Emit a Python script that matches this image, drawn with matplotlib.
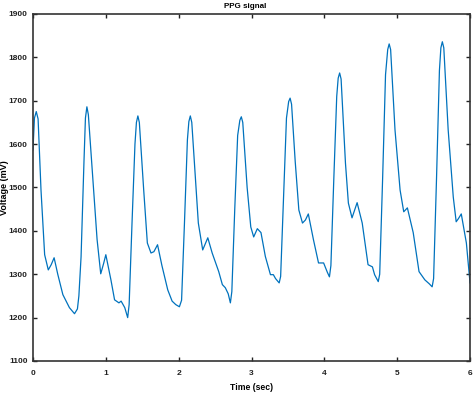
import matplotlib
matplotlib.use("Agg")
import matplotlib.pyplot as plt

time_sec = [
    0.00, 0.02, 0.045, 0.07, 0.11, 0.16, 0.21, 0.25, 0.29, 0.34, 0.41, 0.50, 0.57, 0.61, 0.63, 0.66, 0.70, 0.72, 0.74, 0.76,
    0.82, 0.88, 0.93, 0.97, 1.00, 1.07, 1.12, 1.18, 1.21, 1.26, 1.30, 1.32, 1.36, 1.40, 1.42, 1.44, 1.46,
    1.52, 1.57, 1.62, 1.66, 1.71, 1.77, 1.85, 1.91, 1.96, 2.01, 2.04, 2.08, 2.12, 2.14, 2.16, 2.18,
    2.27, 2.33, 2.36, 2.40, 2.46, 2.55, 2.60, 2.64, 2.68, 2.71, 2.73, 2.77, 2.81, 2.84, 2.86, 2.88,
    2.94, 2.99, 3.03, 3.08, 3.13, 3.19, 3.26, 3.30, 3.33, 3.38, 3.40, 3.44, 3.48, 3.51, 3.53, 3.55,
    3.60, 3.65, 3.70, 3.74, 3.78, 3.85, 3.92, 3.99, 4.04, 4.07, 4.09, 4.13, 4.17, 4.19, 4.21, 4.23,
    4.29, 4.33, 4.38, 4.41, 4.45, 4.52, 4.60, 4.66, 4.69, 4.74, 4.76, 4.80, 4.84, 4.87, 4.89, 4.91,
    4.97, 5.04, 5.09, 5.14, 5.22, 5.30, 5.38, 5.44, 5.48, 5.50, 5.54, 5.58, 5.60, 5.62, 5.64,
    5.70, 5.77, 5.81, 5.84, 5.88, 5.95, 6.00,
]
voltage_mv = [
    1587, 1660, 1675, 1658, 1494, 1345, 1310, 1322, 1338, 1300, 1253, 1223, 1209, 1220, 1250, 1340, 1560, 1660, 1686, 1668,
    1524, 1380, 1301, 1325, 1345, 1287, 1241, 1234, 1238, 1223, 1200, 1230, 1420, 1600, 1650, 1665, 1650,
    1494, 1372, 1349, 1352, 1368, 1320, 1264, 1238, 1230, 1225, 1240, 1420, 1610, 1652, 1665, 1650,
    1418, 1356, 1368, 1384, 1349, 1306, 1276, 1269, 1255, 1234, 1260, 1450, 1620, 1655, 1663, 1650,
    1500, 1409, 1386, 1405, 1396, 1341, 1299, 1299, 1290, 1280, 1295, 1480, 1660, 1698, 1706, 1692,
    1560, 1448, 1418, 1425, 1439, 1380, 1326, 1326, 1305, 1294, 1320, 1520, 1710, 1752, 1764, 1750,
    1556, 1464, 1430, 1445, 1465, 1418, 1322, 1317, 1299, 1283, 1300, 1520, 1760, 1818, 1831, 1818,
    1633, 1494, 1444, 1453, 1396, 1306, 1287, 1278, 1271, 1290, 1520, 1770, 1822, 1836, 1822,
    1633, 1478, 1421, 1428, 1439, 1372, 1280,
]

x_ticks = [0, 1, 2, 3, 4, 5, 6]
y_ticks = [1100, 1200, 1300, 1400, 1500, 1600, 1700, 1800, 1900]

plt.rcParams['font.family'] = ['Liberation Sans', 'DejaVu Sans']

fig = plt.figure(figsize=(4.74, 3.94), dpi=100)
ax = fig.add_axes([0.0696, 0.0838, 0.922, 0.8807])
ax.plot(time_sec, voltage_mv, color='#0072BD', linewidth=0.9)

ax.set_xlim(0, 6)
ax.set_ylim(1100, 1900)
ax.set_xticks(x_ticks)
ax.set_yticks(y_ticks)
ax.set_xticklabels([str(v) for v in x_ticks], fontsize=6, fontweight='bold')
ax.set_yticklabels([str(v) for v in y_ticks], fontsize=6, fontweight='bold')
ax.tick_params(direction='in', length=3, width=1, top=True, right=True, pad=4, colors='#222222')
ax.tick_params(axis='x', pad=6.5)
for s in ax.spines.values():
    s.set_linewidth(1.2)
    s.set_color('#333333')

ax.set_title('PPG signal', fontsize=5.8, fontweight='bold', pad=4.5, x=0.486)
ax.set_xlabel('Time (sec)', fontsize=6.2, fontweight='bold', labelpad=4)
ax.set_ylabel('Voltage (mV)', fontsize=6.5, fontweight='bold')
ax.yaxis.set_label_coords(-0.056, 0.5)

fig.savefig('out.png', dpi=100)
